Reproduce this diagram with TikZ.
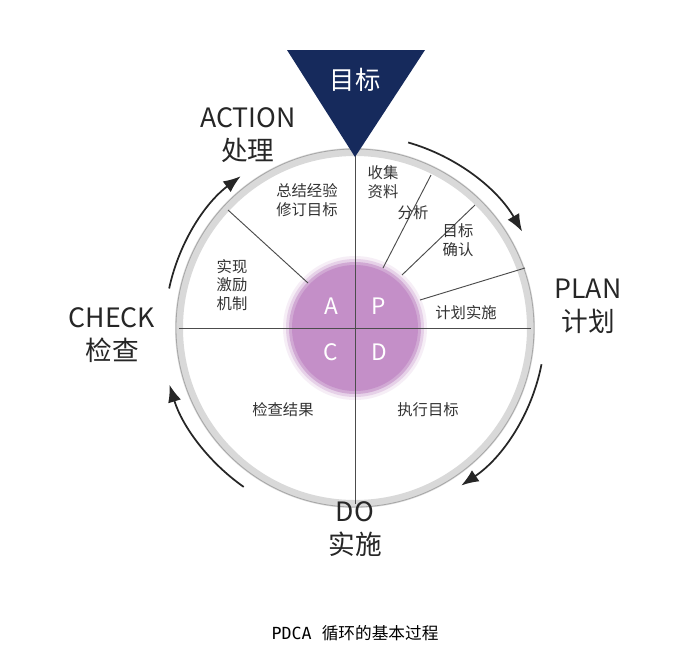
\documentclass[tikz,border=0pt]{standalone}
\usepackage{fontspec}
\setmainfont{Noto Sans CJK SC}
\newfontfamily\capfont{DejaVu Sans Mono}
\newfontfamily\cjkfont{Noto Sans CJK SC}
\usetikzlibrary{arrows.meta}
\definecolor{cpurp}{RGB}{196,143,200}
\definecolor{cnavy}{RGB}{22,42,92}
\begin{document}
\begin{tikzpicture}[x=0.75pt,y=-0.75pt,
  big/.style={font=\fontsize{20}{25}\selectfont,align=center,text=black!85},
  small/.style={font=\fontsize{11.5}{14}\selectfont,align=center,text=black!80},
  letter/.style={font=\fontsize{17}{20}\selectfont,text=white},
  cyc/.style={line width=1.3pt,black!85,-{Latex[length=13pt,width=10pt]}},
  div/.style={line width=0.7pt,black!70}]
\useasboundingbox (0,0) rectangle (687,669);
\fill[white] (0,0) rectangle (687,669);
\coordinate (O) at (355,328);
% outer disk with grey rim
\draw[line width=6pt,black!15,fill=white] (O) circle (176);
\draw[line width=0.6pt,black!35] (O) circle (179);
% purple centre with soft edge
\foreach \r/\o in {72/0.15,69/0.3,66/0.6}{\fill[cpurp,opacity=\o] (O) circle (\r);}
\fill[cpurp] (O) circle (63);
% dividers
\draw[div] (355,152) -- (355,504);
\draw[div] (179,328) -- (531,328);
\coordinate (a1) at (308,283); \coordinate (a2) at (228,210);
\coordinate (p1) at (383,268); \coordinate (p2) at (431,175);
\coordinate (q1) at (402,275); \coordinate (q2) at (475,205);
\coordinate (r1) at (420,300); \coordinate (r2) at (525,268);
\draw[div] (a1) -- (a2); \draw[div] (p1) -- (p2);
\draw[div] (q1) -- (q2); \draw[div] (r1) -- (r2);
% triangle
\fill[cnavy] (287,50) -- (425,50) -- (355,157) -- cycle;
\node[font=\fontsize{19}{22}\selectfont,text=white] (goal) at (355,80) {目标};
% letters
\node[letter] (A) at (331,306) {A};
\node[letter] (P) at (379,306) {P};
\node[letter] (C) at (331,352) {C};
\node[letter] (D) at (379,352) {D};
% inner texts
\node[small] (t1) at (307,200) {总结经验\\修订目标};
\node[small] (t2) at (383,182) {收集\\资料};
\node[small] (t3) at (413,213) {分析};
\node[small] (t4) at (458,240) {目标\\确认};
\node[small] (t5) at (466,313) {计划实施};
\node[small] (t6) at (232,285) {实现\\激励\\机制};
\node[small] (t7) at (283,410) {检查结果};
\node[small] (t8) at (428,410) {执行目标};
% outer labels
\node[big] (act) at (248,135) {ACTION\\处理};
\node[big] (plan) at (588,306) {PLAN\\计划};
\node[big] (chk) at (112,335) {CHECK\\检查};
\node[big] (do) at (355,529) {DO\\实施};
\node[font=\capfont\fontsize{12.5}{15}\selectfont] (cap) at (355,633) {PDCA {\cjkfont 循环的基本过程}};
% cycle arrows (angles negated since y axis points down)
\draw[cyc] ([shift={(-74:193)}]O) arc[start angle=-74,end angle=-30,radius=193];
\draw[cyc] ([shift={(11:190)}]O) arc[start angle=11,end angle=56,radius=190];
\draw[cyc] ([shift={(-235:194)}]O) arc[start angle=-235,end angle=-197,radius=194];
\draw[cyc] ([shift={(-168:190)}]O) arc[start angle=-168,end angle=-127,radius=190];
\end{tikzpicture}
\end{document}
